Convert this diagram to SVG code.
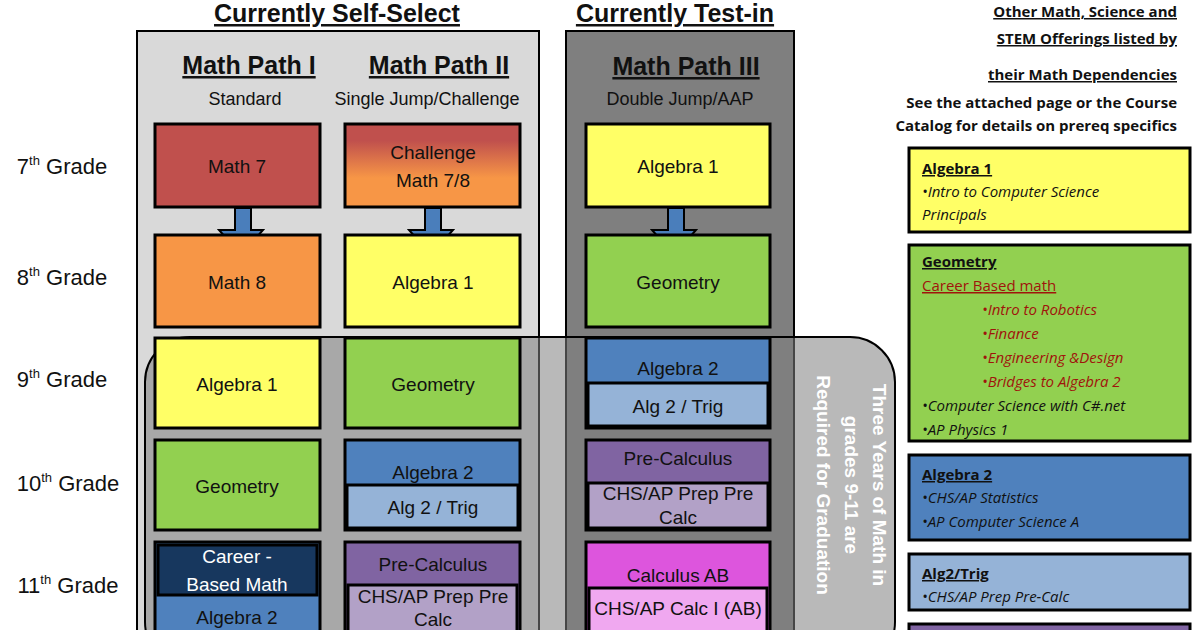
<svg xmlns="http://www.w3.org/2000/svg" width="1200" height="630" viewBox="0 0 1200 630">
<style>
text{font-family:"Liberation Sans",Arial,sans-serif;fill:#111}
.n rect{stroke:#000;stroke-width:3}
.t{font-size:19px;text-anchor:middle}
.h{font-size:25px;font-weight:bold;text-anchor:middle;text-decoration:underline}
.s{font-size:18px;text-anchor:middle}
.g{font-size:22px;text-anchor:middle}
.r{font-family:"Open Sans","DejaVu Sans",sans-serif;font-size:15px}
.rb{font-family:"Open Sans","DejaVu Sans",sans-serif;font-size:15px;font-weight:bold;text-decoration:underline}
.ri{font-family:"Open Sans","DejaVu Sans",sans-serif;font-size:15px;font-style:italic}
.rr{fill:#a0140c}
.w{fill:#fff}
.ar{fill:#4a7ebb;stroke:#000;stroke-width:2}
</style>
<defs>
<linearGradient id="ch" x1="0" y1="0" x2="0" y2="1">
<stop offset="0.2" stop-color="#c0504d"/><stop offset="0.65" stop-color="#f79646"/>
</linearGradient>
</defs>
<rect width="1200" height="630" fill="#fff"/>
<g id="panels">
<rect x="137" y="31" width="402" height="610" fill="#d9d9d9" stroke="#000" stroke-width="2"/>
<rect x="566" y="31" width="228" height="610" fill="#7f7f7f" stroke="#000" stroke-width="2"/>
<rect x="145" y="337" width="750" height="330" rx="45" fill="#7f7f7f" fill-opacity="0.55" stroke="#000" stroke-width="2"/>
</g>
<g id="titles">
<text x="337" y="22" class="h" font-size="27">Currently Self-Select</text>
<text x="675" y="22" class="h" font-size="27">Currently Test-in</text>
<text x="249" y="74" class="h">Math Path I</text>
<text x="439" y="74" class="h">Math Path II</text>
<text x="686" y="75" class="h">Math Path III</text>
<text x="245" y="105" class="s">Standard</text>
<text x="427" y="105" class="s" font-size="17">Single Jump/Challenge</text>
<text x="680" y="105" class="s">Double Jump/AAP</text>
<g font-family="Open Sans,sans-serif" font-size="17" font-weight="bold" text-anchor="end">
<text x="1177" y="17" class="rb" font-size="20" text-anchor="end">Other Math, Science and</text>
<text x="1177" y="44" class="rb" font-size="20" text-anchor="end">STEM Offerings listed by</text>
<text x="1177" y="80" class="rb" font-size="20" text-anchor="end">their Math Dependencies</text>
<text x="1177" y="108" class="r" font-weight="bold" text-anchor="end">See the attached page or the Course</text>
<text x="1177" y="131" class="r" font-weight="bold" text-anchor="end">Catalog for details on prereq specifics</text>
</g>
</g>
<g id="grades" class="g">
<text x="62" y="174">7<tspan font-size="13" dy="-9">th</tspan><tspan dy="9"> Grade</tspan></text>
<text x="62" y="285">8<tspan font-size="13" dy="-9">th</tspan><tspan dy="9"> Grade</tspan></text>
<text x="62" y="387">9<tspan font-size="13" dy="-9">th</tspan><tspan dy="9"> Grade</tspan></text>
<text x="68" y="491">10<tspan font-size="13" dy="-9">th</tspan><tspan dy="9"> Grade</tspan></text>
<text x="68" y="593">11<tspan font-size="13" dy="-9">th</tspan><tspan dy="9"> Grade</tspan></text>
</g>
<g id="connectors">
<path class="ar" d="M235 208h16v22h12l-22 25l-22-25h16z" transform="translate(0,0)"/>
<path class="ar" d="M425 208h16v22h12l-22 25l-22-25h16z"/>
<path class="ar" d="M668 208h16v22h12l-22 25l-22-25h16z"/>
</g>
<g id="n-math7" class="n"><rect x="155" y="124" width="165" height="83" fill="#c0504d"/><text x="237" y="173" class="t">Math 7</text></g>
<g id="n-chal" class="n"><rect x="345" y="124" width="175" height="83" fill="url(#ch)"/><text x="433" y="159" class="t">Challenge</text><text x="433" y="187" class="t">Math 7/8</text></g>
<g id="n-alg1a" class="n"><rect x="586" y="124" width="184" height="83" fill="#ffff66"/><text x="678" y="173" class="t">Algebra 1</text></g>
<g id="n-math8" class="n"><rect x="155" y="235" width="165" height="92" fill="#f79646"/><text x="237" y="289" class="t">Math 8</text></g>
<g id="n-alg1b" class="n"><rect x="345" y="235" width="175" height="92" fill="#ffff66"/><text x="433" y="289" class="t">Algebra 1</text></g>
<g id="n-geo1" class="n"><rect x="586" y="235" width="184" height="92" fill="#92d050"/><text x="678" y="289" class="t">Geometry</text></g>
<g id="n-alg1c" class="n"><rect x="155" y="338" width="165" height="90" fill="#ffff66"/><text x="237" y="391" class="t">Algebra 1</text></g>
<g id="n-geo2" class="n"><rect x="345" y="338" width="175" height="90" fill="#92d050"/><text x="433" y="391" class="t">Geometry</text></g>
<g id="n-alg2a" class="n"><rect x="586" y="338" width="184" height="90" fill="#4f81bd"/><rect x="588" y="383" width="180" height="43" fill="#95b3d7" stroke="none"/><text x="678" y="375" class="t">Algebra 2</text><text x="678" y="413" class="t">Alg 2 / Trig</text></g>
<g id="n-geo3" class="n"><rect x="155" y="440" width="165" height="90" fill="#92d050"/><text x="237" y="493" class="t">Geometry</text></g>
<g id="n-alg2b" class="n"><rect x="345" y="440" width="175" height="90" fill="#4f81bd"/><rect x="347" y="485" width="171" height="43" fill="#95b3d7" stroke="none"/><text x="433" y="479" class="t">Algebra 2</text><text x="433" y="514" class="t">Alg 2 / Trig</text></g>
<g id="n-pre1" class="n"><rect x="586" y="440" width="184" height="90" fill="#8064a2"/><rect x="588" y="483" width="180" height="45" fill="#b2a1c7" stroke="none"/><text x="678" y="465" class="t">Pre-Calculus</text><text x="678" y="500" class="t" font-size="16">CHS/AP Prep Pre</text><text x="678" y="524" class="t" font-size="16">Calc</text></g>
<g id="n-career" class="n"><rect x="155" y="542" width="165" height="100" fill="#4f81bd"/><rect x="158" y="545" width="159" height="50" fill="#17375e" stroke="#4f81bd" stroke-width="1"/><text x="237" y="563" class="t w">Career -</text><text x="237" y="591" class="t w">Based Math</text><text x="237" y="624" class="t">Algebra 2</text></g>
<g id="n-pre2" class="n"><rect x="345" y="542" width="175" height="100" fill="#8064a2"/><rect x="348" y="585" width="169" height="55" fill="#b2a1c7" stroke="none"/><text x="433" y="571" class="t">Pre-Calculus</text><text x="433" y="603" class="t" font-size="16">CHS/AP Prep Pre</text><text x="433" y="626" class="t" font-size="16">Calc</text></g>
<g id="n-calc" class="n"><rect x="586" y="542" width="184" height="100" fill="#dd55dd"/><rect x="589" y="588" width="178" height="52" fill="#f0a8f0" stroke="none"/><text x="678" y="582" class="t">Calculus AB</text><text x="678" y="615" class="t" font-size="16">CHS/AP Calc I (AB)</text></g>
<g id="band-text" font-weight="bold" font-size="19" fill="#fff" text-anchor="middle">
<text transform="translate(873,485) rotate(90)" class="w" font-size="19" font-weight="bold" text-anchor="middle">Three Years of Math in</text>
<text transform="translate(845,485) rotate(90)" class="w" font-size="19" font-weight="bold" text-anchor="middle">grades 9-11 are</text>
<text transform="translate(817,485) rotate(90)" class="w" font-size="19" font-weight="bold" text-anchor="middle">Required for Graduation</text>
</g>
<g id="o-alg1" class="n"><rect x="909" y="148" width="281" height="84" fill="#ffff66"/><text x="922" y="174" class="rb">Algebra 1</text><text x="922" y="197" class="ri">•Intro to Computer Science</text><text x="922" y="220" class="ri">Principals</text></g>
<g id="o-geo" class="n"><rect x="909" y="245" width="281" height="196" fill="#92d050"/><text x="922" y="267" class="rb">Geometry</text><text x="922" y="291" class="r rr" text-decoration="underline">Career Based math</text><text x="982" y="315" class="ri rr">•Intro to Robotics</text><text x="982" y="339" class="ri rr">•Finance</text><text x="982" y="363" class="ri rr">•Engineering &amp;Design</text><text x="982" y="387" class="ri rr">•Bridges to Algebra 2</text><text x="922" y="411" class="ri">•Computer Science with C#.net</text><text x="922" y="435" class="ri">•AP Physics 1</text></g>
<g id="o-alg2" class="n"><rect x="909" y="455" width="281" height="85" fill="#4f81bd"/><text x="922" y="480" class="rb">Algebra 2</text><text x="922" y="503" class="ri">•CHS/AP Statistics</text><text x="922" y="527" class="ri">•AP Computer Science A</text></g>
<g id="o-trig" class="n"><rect x="909" y="554" width="281" height="56" fill="#95b3d7"/><text x="922" y="579" class="rb">Alg2/Trig</text><text x="922" y="602" class="ri">•CHS/AP Prep Pre-Calc</text></g>
<g id="o-more" class="n"><rect x="909" y="624" width="281" height="20" fill="#8064a2"/></g>
</svg>
